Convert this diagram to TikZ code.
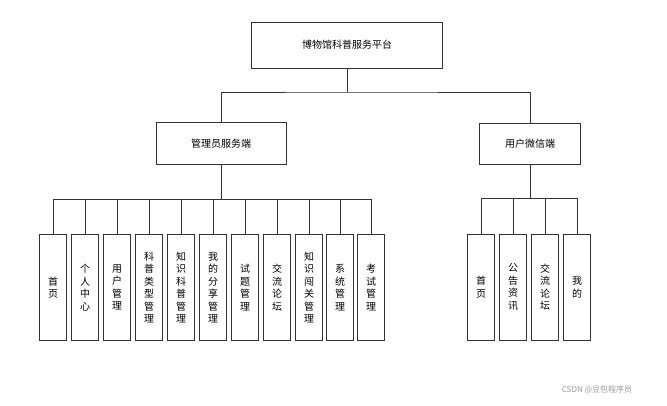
\documentclass[tikz,border=0pt]{standalone}
\usepackage{fontspec}
\setmainfont{Noto Sans CJK SC}
\begin{document}
\begin{tikzpicture}[x=1pt,y=-1pt,
  box/.style={draw=black!80,line width=0.8pt,fill=white,inner sep=0pt,font=\fontsize{10}{10}\selectfont},
  leaf/.style={box,minimum width=27pt,minimum height=106pt,align=center,font=\fontsize{10}{12.5}\selectfont},
  ln/.style={draw=black!80,line width=0.8pt}]
\useasboundingbox (0,0) rectangle (667,405);
\node[box,minimum width=191pt,minimum height=46pt] (root) at (347,45) {博物馆科普服务平台};
\node[box,minimum width=130pt,minimum height=42pt] (adm) at (221,143.5) {管理员服务端};
\node[box,minimum width=101pt,minimum height=41pt] (usr) at (530,143.5) {用户微信端};
\coordinate (tb) at (347,92);
\draw[ln] (root.south) -- (tb);
\draw[ln] (adm.north) |- (tb) -| (usr.north);
\coordinate (ab) at (221,199);
\coordinate (ub) at (530,198);
\draw[ln] (adm.south) -- (ab);
\draw[ln] (usr.south) -- (ub);
\foreach \n/\x/\t in {a1/53/首\\页, a2/85/个\\人\\中\\心, a3/117/用\\户\\管\\理, a4/149/科\\普\\类\\型\\管\\理, a5/181/知\\识\\科\\普\\管\\理, a6/213/我\\的\\分\\享\\管\\理, a7/245/试\\题\\管\\理, a8/277/交\\流\\论\\坛, a9/309/知\\识\\闯\\关\\管\\理, a10/340/系\\统\\管\\理, a11/371/考\\试\\管\\理}{
  \node[leaf] (\n) at (\x,287.5) {\t};
  \draw[ln] (\n.north) -- (\x,199);
}
\draw[ln] (a1.north |- ab) -- (a11.north |- ab);
\foreach \n/\x/\t in {u1/481/首\\页, u2/513/公\\告\\资\\讯, u3/545/交\\流\\论\\坛, u4/577/我\\的}{
  \node[leaf] (\n) at (\x,287) {\t};
  \draw[ln] (\n.north) -- (\x,198);
}
\draw[ln] (u1.north |- ub) -- (u4.north |- ub);
\node[text=black!40,font=\fontsize{8}{8}\selectfont,inner sep=0pt] (wm) at (597,390) {CSDN @豆包程序员};
\end{tikzpicture}
\end{document}
